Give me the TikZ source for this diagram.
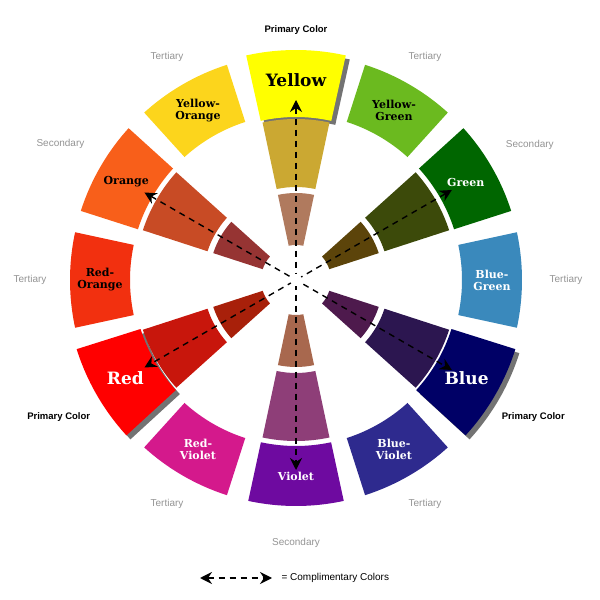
\documentclass[tikz,border=0pt]{standalone}
\usepackage{fontspec}
\setmainfont{DejaVu Serif}
\newfontfamily\lab{Liberation Sans}
\usetikzlibrary{arrows.meta}
\newcommand\wseg[5]{\fill[#5] (#1-#2:#3pt) arc[start angle=#1-#2,end angle=#1+#2,radius=#3pt] -- (#1+#2:#4pt) arc[start angle=#1+#2,end angle=#1-#2,radius=#4pt] -- cycle;}
\definecolor{cY}{HTML}{FFFF00}\definecolor{cYG}{HTML}{6BBA1F}\definecolor{cG}{HTML}{006600}
\definecolor{cBG}{HTML}{3A89BC}\definecolor{cB}{HTML}{000066}\definecolor{cBV}{HTML}{2E2A8E}
\definecolor{cV}{HTML}{6E0AA0}\definecolor{cRV}{HTML}{D4198C}\definecolor{cR}{HTML}{FF0000}
\definecolor{cRO}{HTML}{F2300F}\definecolor{cO}{HTML}{F85F1A}\definecolor{cYO}{HTML}{FCD51C}
\definecolor{mY}{HTML}{CBA832}\definecolor{iY}{HTML}{B07A5E}
\definecolor{mO}{HTML}{C84B25}\definecolor{iO}{HTML}{963433}
\definecolor{mG}{HTML}{3C4A0A}\definecolor{iG}{HTML}{5C440A}
\definecolor{mB}{HTML}{2C1650}\definecolor{iB}{HTML}{4E1A4D}
\definecolor{mV}{HTML}{8E3E78}\definecolor{iV}{HTML}{A8684E}
\definecolor{mR}{HTML}{C8160C}\definecolor{iR}{HTML}{A8200A}
\tikzset{
 inl/.style={font=\bfseries\fontsize{11}{12}\selectfont,align=center},
 big/.style={font=\bfseries\fontsize{17}{18}\selectfont},
 ter/.style={font=\lab\fontsize{10}{12}\selectfont,text=gray!85},
 prim/.style={font=\lab\bfseries\fontsize{9.5}{11}\selectfont},
 comp/.style={dash pattern=on 6pt off 5pt,line width=1.4pt,{Stealth[length=12pt,width=12pt,inset=4pt]}-{Stealth[length=12pt,width=12pt,inset=4pt]}}
}
\begin{document}
\begin{tikzpicture}[x=1pt,y=1pt]
\useasboundingbox (0,0) rectangle (600,600);
\begin{scope}[shift={(296,320)}]
\foreach \a in {90,210,330}{\begin{scope}[shift={(4,-4)}]\wseg{\a}{12.5}{163}{230}{black!55}\end{scope}}
\foreach \a/\c in {90/cY,60/cYG,30/cG,0/cBG,-30/cB,-60/cBV,-90/cV,-120/cRV,-150/cR,180/cRO,150/cO,120/cYO}{
  \wseg{\a}{12.2}{166}{226}{fill=\c}}
\wseg{90}{12.5}{163}{230}{fill=cY}
\wseg{210}{12.5}{163}{230}{fill=cR}
\wseg{330}{12.5}{163}{230}{fill=cB}
\foreach \a/\m/\i in {90/mY/iY,150/mO/iO,30/mG/iG,-30/mB/iB,-90/mV/iV,210/mR/iR}{
  \wseg{\a}{12}{93}{161}{fill=\m}
  \wseg{\a}{12}{35}{87}{fill=\i}}
\node[big] at (90:200) {Yellow};
\node[big,white] at (210:197) {Red};
\node[big,white] at (330:197) {Blue};
\node[inl] at (60:196) {Yellow-\\Green};
\node[inl,white] at (30:196) {Green};
\node[inl,white] at (0:196) {Blue-\\Green};
\node[inl,white] at (-60:196) {Blue-\\Violet};
\node[inl,white] at (-90:196) {Violet};
\node[inl,white] at (-120:196) {Red-\\Violet};
\node[inl] at (180:196) {Red-\\Orange};
\node[inl] at (150:196) {Orange};
\node[inl] at (120:196) {Yellow-\\Orange};
\node[ter] at (60:258) {Tertiary};
\node[ter] at (30:270) {Secondary};
\node[ter] at (0:270) {Tertiary};
\node[ter] at (-60:258) {Tertiary};
\node[ter] at (-90:263) {Secondary};
\node[ter] at (-120:258) {Tertiary};
\node[ter] at (180:266) {Tertiary};
\node[ter] at (150:272) {Secondary};
\node[ter] at (120:258) {Tertiary};
\node[prim] at (90:250) {Primary Color};
\node[prim] at (210:274) {Primary Color};
\node[prim] at (330:274) {Primary Color};
\coordinate (pY) at (90:180); \coordinate (pV) at (270:190);
\coordinate (pO) at (150:175); \coordinate (pB) at (330:180);
\coordinate (pG) at (30:180); \coordinate (pR) at (210:175);
\draw[comp] (pY) -- (pV);
\draw[comp] (pO) -- (pB);
\draw[comp] (pG) -- (pR);
\fill[white] (0,0) circle (6pt);
\end{scope}
\coordinate (la) at (200,22); \coordinate (lb2) at (272,22);
\draw[comp] (la) -- (lb2);
\node[font=\lab\fontsize{10}{12}\selectfont,anchor=west] at (278,22) {= Complimentary Colors};
\end{tikzpicture}
\end{document}
